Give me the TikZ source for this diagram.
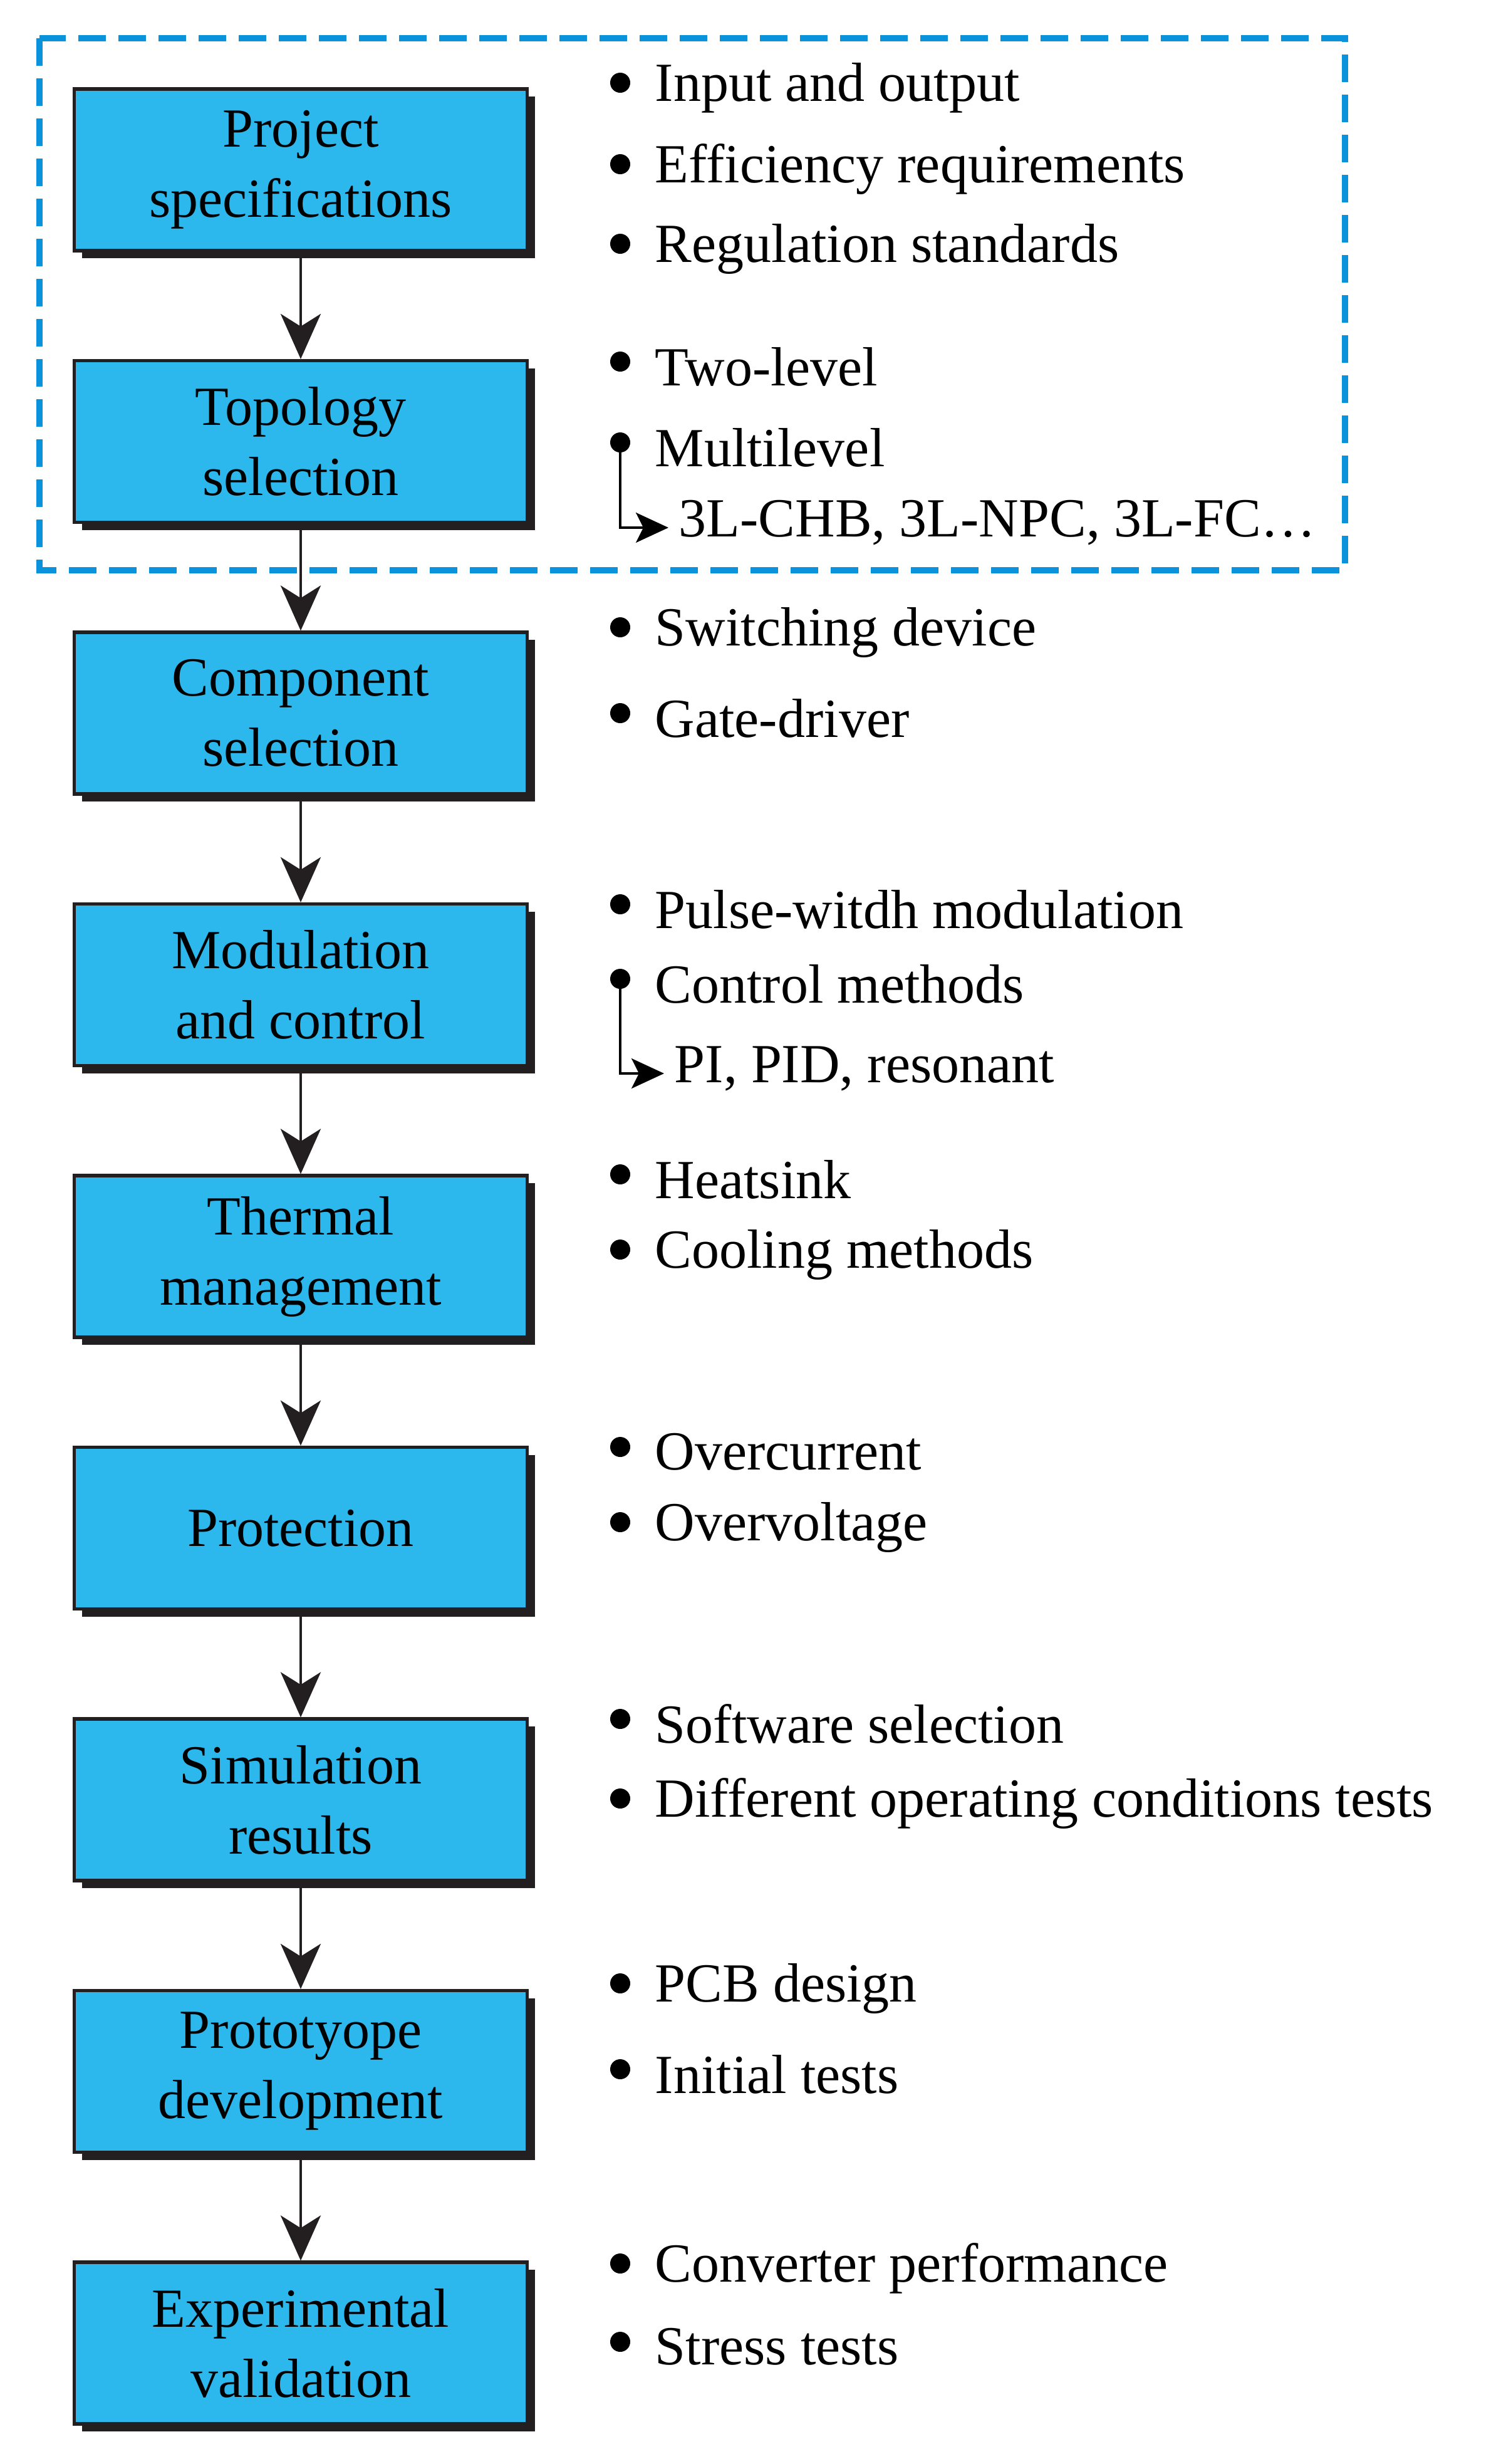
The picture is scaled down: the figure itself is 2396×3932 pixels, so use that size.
\documentclass[tikz,border=0pt]{standalone}
\usepackage{fontspec}
\setmainfont{Liberation Serif}
\usetikzlibrary{arrows.meta}
\definecolor{boxblue}{HTML}{2CB8EC}
\definecolor{dashblue}{HTML}{0A93DA}
\definecolor{ink}{HTML}{231F20}
\begin{document}
\begin{tikzpicture}[x=0.25pt,y=-0.25pt,
  box/.style={draw=ink,line width=1.3pt,fill=boxblue,minimum width=180.75pt,minimum height=64.5pt,
    align=center,font=\fontsize{22}{28}\selectfont,inner sep=0pt},
  shadow/.style={fill=ink},
  item/.style={anchor=west,font=\fontsize{22}{24}\selectfont,inner sep=0pt},
  dot/.style={circle,fill=black,minimum size=8pt,inner sep=0pt},
  flow/.style={draw=ink,line width=1.2pt,-{Stealth[length=18pt,width=16pt,inset=5pt]}},
  sub/.style={draw=black,line width=0.9pt,-{Stealth[length=13pt,width=12pt,inset=3pt]}}]
\useasboundingbox (0,0) rectangle (2396,3932);
\draw[dashblue,line width=2.3pt,dash pattern=on 11pt off 5pt] (63,61) rectangle (2147,910);
\foreach \i/\t in {0/{Project\\specifications},1/{Topology\\selection},2/{Component\\selection},
  3/{Modulation\\and control},4/{Thermal\\management},5/{Protection},6/{Simulation\\results},
  7/{Prototyope\\development},8/{Experimental\\validation}}{
  \fill[shadow] (131,{154+433.5*\i}) rectangle (854,{412+433.5*\i});
  \node[box] (b\i) at (480,{271+433.5*\i}) {\t};
}
\foreach \i [evaluate=\i as \j using int(\i+1)] in {0,...,7}{
  \draw[flow] (b\i.south) -- (b\j.north);
}
% bullets
\foreach \n/\y/\t in {a1/132/{Input and output},a2/262/{Efficiency requirements},a3/389/{Regulation standards},
  b1/577/{Two-level},b2/706/{Multilevel},
  c1/1001/{Switching device},c2/1138/{Gate-driver},
  d1/1443/{Pulse-witdh modulation},d2/1562/{Control methods},
  e1/1874/{Heatsink},e2/1994/{Cooling methods},
  f1/2309/{Overcurrent},f2/2429/{Overvoltage},
  g1/2743/{Software selection},g2/2870/{Different operating conditions tests},
  h1/3165/{PCB design},h2/3302/{Initial tests},
  i1/3612/{Converter performance},i2/3737/{Stress tests}}{
  \node[dot] (p\n) at (990,\y) {};
  \node[item] (t\n) at (1045,\y+8) {\t};
}
\node[item] (tb3) at (1083,834) {3L-CHB, 3L-NPC, 3L-FC\ldots};
\node[item] (td3) at (1076,1705) {PI, PID, resonant};
\draw[sub] (pb2.center) |- ([xshift=-4pt,yshift=-2pt]tb3.west);
\draw[sub] (pd2.center) |- ([xshift=-4pt,yshift=-2pt]td3.west);
\end{tikzpicture}
\end{document}
